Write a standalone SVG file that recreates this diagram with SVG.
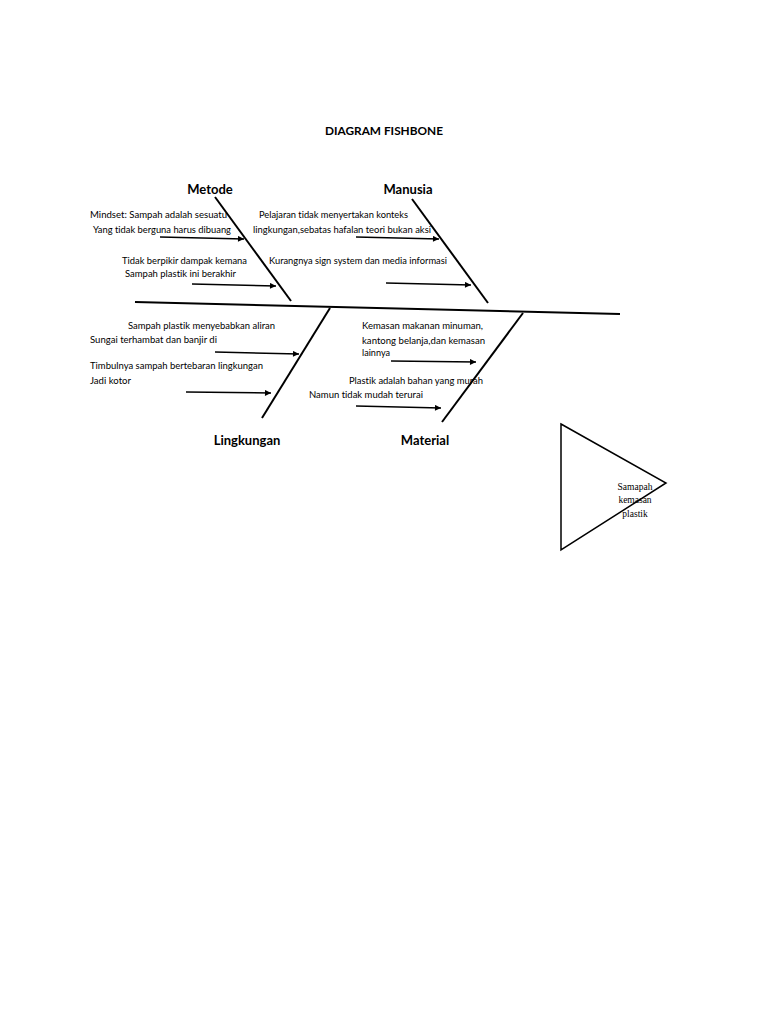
<svg xmlns="http://www.w3.org/2000/svg" width="768" height="1024" viewBox="0 0 768 1024">
<defs>
<marker id="ah" viewBox="0 0 10 10" refX="10" refY="5" markerWidth="8" markerHeight="6" markerUnits="userSpaceOnUse" orient="auto">
<path d="M0,0 L10,5 L0,10 z" fill="#000"/>
</marker>
<style>
.bone{stroke:#000;stroke-width:2;fill:none}
.arr{stroke:#000;stroke-width:1.6;fill:none;marker-end:url(#ah)}
.t{font-family:Lato,"Open Sans","Liberation Sans",sans-serif;font-size:9px;fill:#000;font-variant-ligatures:none}
.lbl{font-family:Lato,"Open Sans","Liberation Sans",sans-serif;font-size:13px;font-weight:bold;fill:#000;text-anchor:middle}
.title{font-family:Lato,"Open Sans","Liberation Sans",sans-serif;font-size:11.5px;font-weight:bold;fill:#000}
.hd{font-family:"Liberation Serif",serif;font-size:9.5px;fill:#000;text-anchor:middle}
</style>
</defs>
<rect width="768" height="1024" fill="#fff"/>
<text class="title" x="325" y="135" textLength="118" lengthAdjust="spacingAndGlyphs">DIAGRAM FISHBONE</text>

<g id="connectors">
<line class="bone" x1="135" y1="302" x2="620" y2="314"/>
<line class="bone" x1="215" y1="197" x2="291" y2="301"/>
<line class="bone" x1="412" y1="199" x2="488" y2="303"/>
<line class="bone" x1="330" y1="308" x2="262" y2="418"/>
<line class="bone" x1="523" y1="313" x2="442" y2="422"/>
<line class="arr" x1="160" y1="237" x2="244" y2="239"/>
<line class="arr" x1="192" y1="284" x2="276" y2="286"/>
<line class="arr" x1="356" y1="237" x2="439" y2="239"/>
<line class="arr" x1="386" y1="283" x2="471" y2="285"/>
<line class="arr" x1="215" y1="352" x2="299" y2="354"/>
<line class="arr" x1="186" y1="392" x2="271" y2="393"/>
<line class="arr" x1="391" y1="361" x2="476" y2="362"/>
<line class="arr" x1="356" y1="406" x2="441" y2="408"/>
</g>

<g id="metode">
<text class="lbl" x="210" y="194">Metode</text>
<text class="t" x="90" y="218" textLength="137" lengthAdjust="spacingAndGlyphs">Mindset: Sampah adalah sesuatu</text>
<text class="t" x="93" y="233" textLength="138" lengthAdjust="spacingAndGlyphs">Yang tidak berguna harus dibuang</text>
<text class="t" x="122" y="264" textLength="125" lengthAdjust="spacingAndGlyphs">Tidak berpikir dampak kemana</text>
<text class="t" x="125" y="277" textLength="111" lengthAdjust="spacingAndGlyphs">Sampah plastik ini berakhir</text>
</g>

<g id="manusia">
<text class="lbl" x="408" y="194">Manusia</text>
<text class="t" x="259" y="218" textLength="149" lengthAdjust="spacingAndGlyphs">Pelajaran tidak menyertakan konteks</text>
<text class="t" x="253" y="233" textLength="178" lengthAdjust="spacingAndGlyphs">lingkungan,sebatas hafalan teori bukan aksi</text>
<text class="t" x="269" y="264" textLength="178" lengthAdjust="spacingAndGlyphs">Kurangnya sign system dan media informasi</text>
</g>

<g id="lingkungan">
<text class="lbl" x="247" y="445">Lingkungan</text>
<text class="t" x="128" y="329" textLength="147" lengthAdjust="spacingAndGlyphs">Sampah plastik menyebabkan aliran</text>
<text class="t" x="90" y="343" textLength="127" lengthAdjust="spacingAndGlyphs">Sungai terhambat dan banjir di</text>
<text class="t" x="90" y="369" textLength="173" lengthAdjust="spacingAndGlyphs">Timbulnya sampah bertebaran lingkungan</text>
<text class="t" x="90" y="384" textLength="41" lengthAdjust="spacingAndGlyphs">Jadi kotor</text>
</g>

<g id="material">
<text class="lbl" x="425" y="445">Material</text>
<text class="t" x="362" y="329" textLength="121" lengthAdjust="spacingAndGlyphs">Kemasan makanan minuman,</text>
<text class="t" x="362" y="344" textLength="123" lengthAdjust="spacingAndGlyphs">kantong belanja,dan kemasan</text>
<text class="t" x="362" y="356" textLength="28" lengthAdjust="spacingAndGlyphs">lainnya</text>
<text class="t" x="349" y="384" textLength="134" lengthAdjust="spacingAndGlyphs">Plastik adalah bahan yang murah</text>
<text class="t" x="309" y="398" textLength="114" lengthAdjust="spacingAndGlyphs">Namun tidak mudah terurai</text>
</g>

<g id="head">
<polygon points="561,424 666,483 561,550" fill="none" stroke="#000" stroke-width="1.5"/>
<text class="hd" x="635" y="490">Samapah</text>
<text class="hd" x="635" y="503">kemasan</text>
<text class="hd" x="635" y="517">plastik</text>
</g>
</svg>
